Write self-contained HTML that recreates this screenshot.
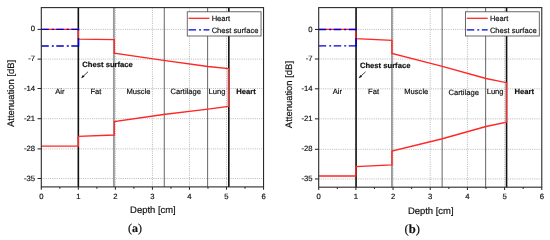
<!DOCTYPE html>
<html><head><meta charset="utf-8"><title>Attenuation</title>
<style>
html,body{margin:0;padding:0;background:#fff;}
svg{display:block}
text{font-family:"Liberation Sans",sans-serif;fill:#111;stroke:#111;stroke-width:0.18px;text-rendering:geometricPrecision}
.grid{stroke:#a6a6a6;stroke-width:0.8;stroke-dasharray:1 1.2}
.tick{stroke:#2a2a2a;stroke-width:1.05}
.tl{font-size:7.7px}
.at{font-size:9.45px}
.rl{font-size:7.6px}
.rb{font-size:7.65px;font-weight:bold;fill:#111;stroke:#111;stroke-width:0.18px;text-rendering:geometricPrecision}
.lg{font-size:7.6px}
.cap{font-family:"Liberation Serif",serif;fill:#111;stroke:#111;stroke-width:0.18px;text-rendering:geometricPrecision}
.blue{stroke:#0000cc;stroke-width:1.4;fill:none;stroke-dasharray:7.5 3 2 2.5}
</style></head><body>
<svg width="550" height="240" viewBox="0 0 550 240">
<rect width="550" height="240" fill="#fff"/>
<line x1="78.34" y1="7.60" x2="78.34" y2="186.90" class="grid"/>
<line x1="115.38" y1="7.60" x2="115.38" y2="186.90" class="grid"/>
<line x1="152.42" y1="7.60" x2="152.42" y2="186.90" class="grid"/>
<line x1="189.46" y1="7.60" x2="189.46" y2="186.90" class="grid"/>
<line x1="226.50" y1="7.60" x2="226.50" y2="186.90" class="grid"/>
<line x1="41.30" y1="29.40" x2="263.54" y2="29.40" class="grid"/>
<line x1="41.30" y1="59.10" x2="263.54" y2="59.10" class="grid"/>
<line x1="41.30" y1="88.50" x2="263.54" y2="88.50" class="grid"/>
<line x1="41.30" y1="118.70" x2="263.54" y2="118.70" class="grid"/>
<line x1="41.30" y1="148.90" x2="263.54" y2="148.90" class="grid"/>
<line x1="41.30" y1="178.50" x2="263.54" y2="178.50" class="grid"/>
<line x1="113.90" y1="7.60" x2="113.90" y2="186.90" stroke="#9a9a9a" stroke-width="1.9"/>
<line x1="164.27" y1="7.60" x2="164.27" y2="186.90" stroke="#555" stroke-width="0.9"/>
<line x1="207.61" y1="7.60" x2="207.61" y2="186.90" stroke="#555" stroke-width="0.9"/>
<line x1="78.34" y1="7.60" x2="78.34" y2="186.90" stroke="#111" stroke-width="1.6"/>
<line x1="228.83" y1="7.60" x2="228.83" y2="186.90" stroke="#111" stroke-width="1.6"/>
<path d="M41.30,29.40 L78.34,29.40 L78.34,39.10 L114.27,39.70 L114.27,53.10 L163.53,60.40 L207.98,66.50 L228.35,68.70 L228.35,106.50 L207.98,109.20 L163.53,114.50 L114.27,121.60 L114.27,135.00 L78.34,136.30 L78.34,146.10 L41.30,146.10" fill="none" stroke="#ff2626" stroke-width="1.3" stroke-linejoin="miter"/>
<path d="M41.30,29.40 L78.53,29.40" class="blue"/>
<path d="M41.30,45.95 L78.53,45.95" class="blue"/>
<path d="M78.53,37.89 L78.53,46.65" stroke="#0000cc" stroke-width="1.4" fill="none"/>
<path d="M78.53,28.70 L78.53,30.40" stroke="#0000cc" stroke-width="1.4" fill="none"/>
<rect x="41.30" y="7.60" width="222.24" height="179.30" fill="none" stroke="#2a2a2a" stroke-width="1.1"/>
<line x1="41.30" y1="186.90" x2="41.30" y2="189.70" class="tick"/>
<line x1="59.82" y1="186.90" x2="59.82" y2="188.80" class="tick"/>
<line x1="78.34" y1="186.90" x2="78.34" y2="189.70" class="tick"/>
<line x1="96.86" y1="186.90" x2="96.86" y2="188.80" class="tick"/>
<line x1="115.38" y1="186.90" x2="115.38" y2="189.70" class="tick"/>
<line x1="133.90" y1="186.90" x2="133.90" y2="188.80" class="tick"/>
<line x1="152.42" y1="186.90" x2="152.42" y2="189.70" class="tick"/>
<line x1="170.94" y1="186.90" x2="170.94" y2="188.80" class="tick"/>
<line x1="189.46" y1="186.90" x2="189.46" y2="189.70" class="tick"/>
<line x1="207.98" y1="186.90" x2="207.98" y2="188.80" class="tick"/>
<line x1="226.50" y1="186.90" x2="226.50" y2="189.70" class="tick"/>
<line x1="245.02" y1="186.90" x2="245.02" y2="188.80" class="tick"/>
<line x1="263.54" y1="186.90" x2="263.54" y2="189.70" class="tick"/>
<line x1="41.30" y1="178.50" x2="37.50" y2="178.50" class="tick"/>
<line x1="41.30" y1="148.90" x2="37.50" y2="148.90" class="tick"/>
<line x1="41.30" y1="118.70" x2="37.50" y2="118.70" class="tick"/>
<line x1="41.30" y1="88.50" x2="37.50" y2="88.50" class="tick"/>
<line x1="41.30" y1="59.10" x2="37.50" y2="59.10" class="tick"/>
<line x1="41.30" y1="29.40" x2="37.50" y2="29.40" class="tick"/>
<text x="41.30" y="198.60" class="tl" text-anchor="middle">0</text>
<text x="78.34" y="198.60" class="tl" text-anchor="middle">1</text>
<text x="115.38" y="198.60" class="tl" text-anchor="middle">2</text>
<text x="152.42" y="198.60" class="tl" text-anchor="middle">3</text>
<text x="189.46" y="198.60" class="tl" text-anchor="middle">4</text>
<text x="226.50" y="198.60" class="tl" text-anchor="middle">5</text>
<text x="263.54" y="198.60" class="tl" text-anchor="middle">6</text>
<text x="35.10" y="31.45" class="tl" text-anchor="end">0</text>
<text x="35.10" y="61.15" class="tl" text-anchor="end">-7</text>
<text x="35.10" y="90.55" class="tl" text-anchor="end">-14</text>
<text x="35.10" y="120.75" class="tl" text-anchor="end">-21</text>
<text x="35.10" y="150.95" class="tl" text-anchor="end">-28</text>
<text x="35.10" y="180.55" class="tl" text-anchor="end">-35</text>
<text x="152.92" y="212.90" class="at" text-anchor="middle">Depth [cm]</text>
<text transform="translate(13.50,93.38) rotate(-90)" class="at" text-anchor="middle">Attenuation [dB]</text>
<text x="59.82" y="93.70" class="rl" text-anchor="middle">Air</text>
<text x="95.93" y="93.70" class="rl" text-anchor="middle">Fat</text>
<text x="138.53" y="93.70" class="rl" text-anchor="middle">Muscle</text>
<text x="185.76" y="94.20" class="rl" text-anchor="middle">Cartilage</text>
<text x="217.05" y="93.70" class="rl" text-anchor="middle">Lung</text>
<text x="246.13" y="93.70" class="rb" text-anchor="middle">Heart</text>
<text x="82.34" y="67.20" class="rb">Chest surface</text>
<line x1="88.04" y1="71.70" x2="82.14" y2="77.30" stroke="#111" stroke-width="0.8"/>
<polygon points="81.14,78.30 84.54,76.70 82.74,74.90" fill="#111"/>
<rect x="187.24" y="11.80" width="73.8" height="24.2" fill="#fff" stroke="#444" stroke-width="0.8"/>
<line x1="188.54" y1="18.30" x2="209.44" y2="18.30" stroke="#ff2626" stroke-width="1.3"/>
<line x1="188.54" y1="29.85" x2="209.44" y2="29.85" class="blue"/>
<text x="211.64" y="20.80" class="lg">Heart</text>
<text x="211.64" y="32.60" class="lg">Chest surface</text>
<text x="135.12" y="231.90" class="cap" font-size="12" text-anchor="middle">(<tspan font-weight="bold">a</tspan>)</text>
<line x1="355.88" y1="7.60" x2="355.88" y2="187.20" class="grid"/>
<line x1="393.06" y1="7.60" x2="393.06" y2="187.20" class="grid"/>
<line x1="430.24" y1="7.60" x2="430.24" y2="187.20" class="grid"/>
<line x1="467.42" y1="7.60" x2="467.42" y2="187.20" class="grid"/>
<line x1="504.60" y1="7.60" x2="504.60" y2="187.20" class="grid"/>
<line x1="318.70" y1="29.45" x2="541.78" y2="29.45" class="grid"/>
<line x1="318.70" y1="59.00" x2="541.78" y2="59.00" class="grid"/>
<line x1="318.70" y1="88.80" x2="541.78" y2="88.80" class="grid"/>
<line x1="318.70" y1="118.85" x2="541.78" y2="118.85" class="grid"/>
<line x1="318.70" y1="149.30" x2="541.78" y2="149.30" class="grid"/>
<line x1="318.70" y1="178.95" x2="541.78" y2="178.95" class="grid"/>
<line x1="391.94" y1="7.60" x2="391.94" y2="187.20" stroke="#808080" stroke-width="1.45"/>
<line x1="442.14" y1="7.60" x2="442.14" y2="187.20" stroke="#555" stroke-width="0.9"/>
<line x1="485.64" y1="7.60" x2="485.64" y2="187.20" stroke="#555" stroke-width="0.9"/>
<line x1="356.07" y1="7.60" x2="356.07" y2="187.20" stroke="#111" stroke-width="1.6"/>
<line x1="506.57" y1="7.60" x2="506.57" y2="187.20" stroke="#111" stroke-width="1.6"/>
<path d="M318.70,29.45 L355.88,29.45 L355.88,38.60 L391.94,40.40 L391.94,53.40 L441.39,66.10 L486.01,78.50 L506.46,82.70 L506.46,122.10 L486.01,126.50 L441.39,139.00 L391.94,151.00 L391.94,164.80 L355.88,166.60 L355.88,176.00 L318.70,176.00" fill="none" stroke="#ff2626" stroke-width="1.3" stroke-linejoin="miter"/>
<path d="M318.70,29.45 L356.07,29.45" class="blue"/>
<path d="M318.70,45.91 L356.07,45.91" class="blue"/>
<path d="M356.07,37.89 L356.07,46.61" stroke="#0000cc" stroke-width="1.4" fill="none"/>
<path d="M356.07,28.75 L356.07,30.45" stroke="#0000cc" stroke-width="1.4" fill="none"/>
<rect x="318.70" y="7.60" width="223.08" height="179.60" fill="none" stroke="#2a2a2a" stroke-width="1.1"/>
<line x1="318.70" y1="187.20" x2="318.70" y2="190.00" class="tick"/>
<line x1="337.29" y1="187.20" x2="337.29" y2="189.10" class="tick"/>
<line x1="355.88" y1="187.20" x2="355.88" y2="190.00" class="tick"/>
<line x1="374.47" y1="187.20" x2="374.47" y2="189.10" class="tick"/>
<line x1="393.06" y1="187.20" x2="393.06" y2="190.00" class="tick"/>
<line x1="411.65" y1="187.20" x2="411.65" y2="189.10" class="tick"/>
<line x1="430.24" y1="187.20" x2="430.24" y2="190.00" class="tick"/>
<line x1="448.83" y1="187.20" x2="448.83" y2="189.10" class="tick"/>
<line x1="467.42" y1="187.20" x2="467.42" y2="190.00" class="tick"/>
<line x1="486.01" y1="187.20" x2="486.01" y2="189.10" class="tick"/>
<line x1="504.60" y1="187.20" x2="504.60" y2="190.00" class="tick"/>
<line x1="523.19" y1="187.20" x2="523.19" y2="189.10" class="tick"/>
<line x1="541.78" y1="187.20" x2="541.78" y2="190.00" class="tick"/>
<line x1="318.70" y1="178.95" x2="314.90" y2="178.95" class="tick"/>
<line x1="318.70" y1="149.30" x2="314.90" y2="149.30" class="tick"/>
<line x1="318.70" y1="118.85" x2="314.90" y2="118.85" class="tick"/>
<line x1="318.70" y1="88.80" x2="314.90" y2="88.80" class="tick"/>
<line x1="318.70" y1="59.00" x2="314.90" y2="59.00" class="tick"/>
<line x1="318.70" y1="29.45" x2="314.90" y2="29.45" class="tick"/>
<text x="318.70" y="198.90" class="tl" text-anchor="middle">0</text>
<text x="355.88" y="198.90" class="tl" text-anchor="middle">1</text>
<text x="393.06" y="198.90" class="tl" text-anchor="middle">2</text>
<text x="430.24" y="198.90" class="tl" text-anchor="middle">3</text>
<text x="467.42" y="198.90" class="tl" text-anchor="middle">4</text>
<text x="504.60" y="198.90" class="tl" text-anchor="middle">5</text>
<text x="541.78" y="198.90" class="tl" text-anchor="middle">6</text>
<text x="312.50" y="31.50" class="tl" text-anchor="end">0</text>
<text x="312.50" y="61.05" class="tl" text-anchor="end">-7</text>
<text x="312.50" y="90.85" class="tl" text-anchor="end">-14</text>
<text x="312.50" y="120.90" class="tl" text-anchor="end">-21</text>
<text x="312.50" y="151.35" class="tl" text-anchor="end">-28</text>
<text x="312.50" y="181.00" class="tl" text-anchor="end">-35</text>
<text x="430.74" y="213.50" class="at" text-anchor="middle">Depth [cm]</text>
<text transform="translate(291.50,94.55) rotate(-90)" class="at" text-anchor="middle">Attenuation [dB]</text>
<text x="337.29" y="94.00" class="rl" text-anchor="middle">Air</text>
<text x="373.54" y="94.00" class="rl" text-anchor="middle">Fat</text>
<text x="416.30" y="94.00" class="rl" text-anchor="middle">Muscle</text>
<text x="463.70" y="94.50" class="rl" text-anchor="middle">Cartilage</text>
<text x="495.12" y="94.00" class="rl" text-anchor="middle">Lung</text>
<text x="524.31" y="94.00" class="rb" text-anchor="middle">Heart</text>
<text x="359.88" y="67.85" class="rb">Chest surface</text>
<line x1="365.58" y1="71.75" x2="359.68" y2="77.35" stroke="#111" stroke-width="0.8"/>
<polygon points="358.68,78.35 362.08,76.75 360.28,74.95" fill="#111"/>
<rect x="465.48" y="11.80" width="73.8" height="24.2" fill="#fff" stroke="#444" stroke-width="0.8"/>
<line x1="466.78" y1="18.30" x2="487.68" y2="18.30" stroke="#ff2626" stroke-width="1.3"/>
<line x1="466.78" y1="29.85" x2="487.68" y2="29.85" class="blue"/>
<text x="489.88" y="20.80" class="lg">Heart</text>
<text x="489.88" y="32.60" class="lg">Chest surface</text>
<text x="412.14" y="232.50" class="cap" font-size="12.6" text-anchor="middle">(<tspan font-weight="bold">b</tspan>)</text>
</svg>
</body></html>
